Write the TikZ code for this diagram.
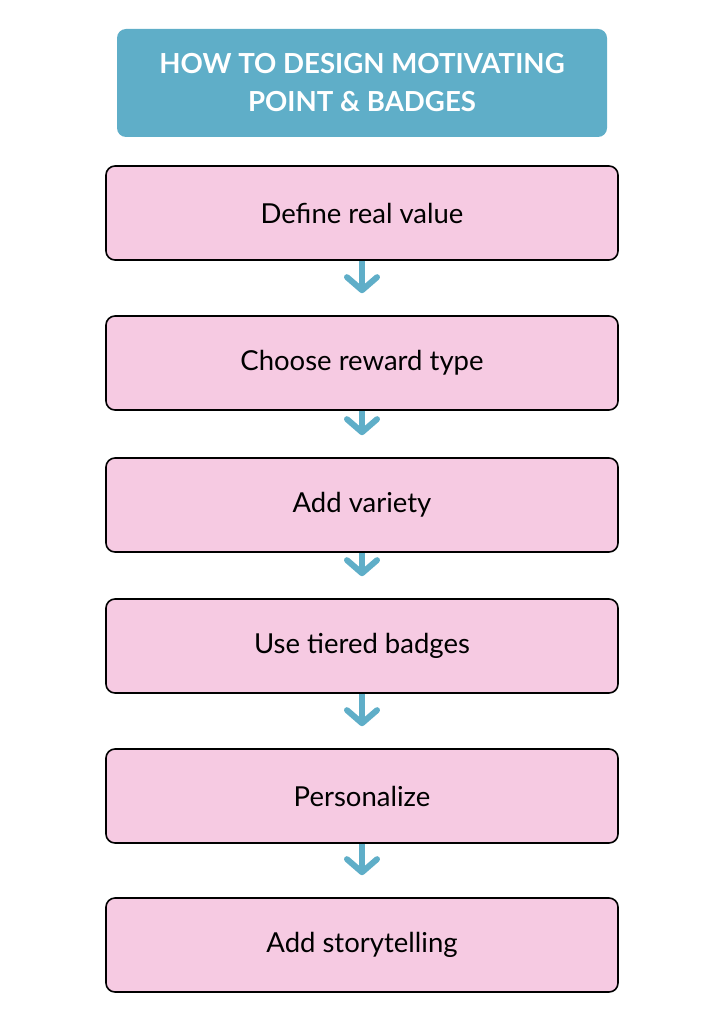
\documentclass[tikz,border=0pt]{standalone}
\usepackage{fontspec}
\setmainfont{Lato}
\usetikzlibrary{arrows.meta}
\definecolor{tblue}{RGB}{95,174,200}
\definecolor{bpink}{RGB}{246,202,226}
\begin{document}
\begin{tikzpicture}[x=1pt,y=-1pt,
  title/.style={fill=tblue, rounded corners=9pt, minimum width=490pt, minimum height=108pt, text=white, align=center, font=\fontsize{27.6}{38}\selectfont\bfseries},
  stepbox/.style={draw=black, line width=1.6pt, fill=bpink, rounded corners=9pt, minimum width=512pt, minimum height=94pt, font=\fontsize{27.5}{30}\selectfont},
  arr/.style={draw=tblue, line width=6pt, shorten >=22pt, -{Straight Barb[length=13pt, width=30pt, line width=6pt, round]}}
]
\useasboundingbox (0,0) rectangle (724,1024);
\node[title] (t) at (362,83) {HOW TO DESIGN MOTIVATING\\POINT \& BADGES};
\node[stepbox] (b1) at (362,213) {Define real value};
\node[stepbox] (b2) at (362,363) {Choose reward type};
\node[stepbox] (b3) at (362,505) {Add variety};
\node[stepbox] (b4) at (362,646) {Use tiered badges};
\node[stepbox] (b5) at (362,796) {Personalize};
\node[stepbox] (b6) at (362,945) {Add storytelling};
\draw[arr] (b1.south) -- (b2.north);
\draw[arr] (b2.south) -- (b3.north);
\draw[arr] (b3.south) -- (b4.north);
\draw[arr] (b4.south) -- (b5.north);
\draw[arr] (b5.south) -- (b6.north);
\end{tikzpicture}
\end{document}
